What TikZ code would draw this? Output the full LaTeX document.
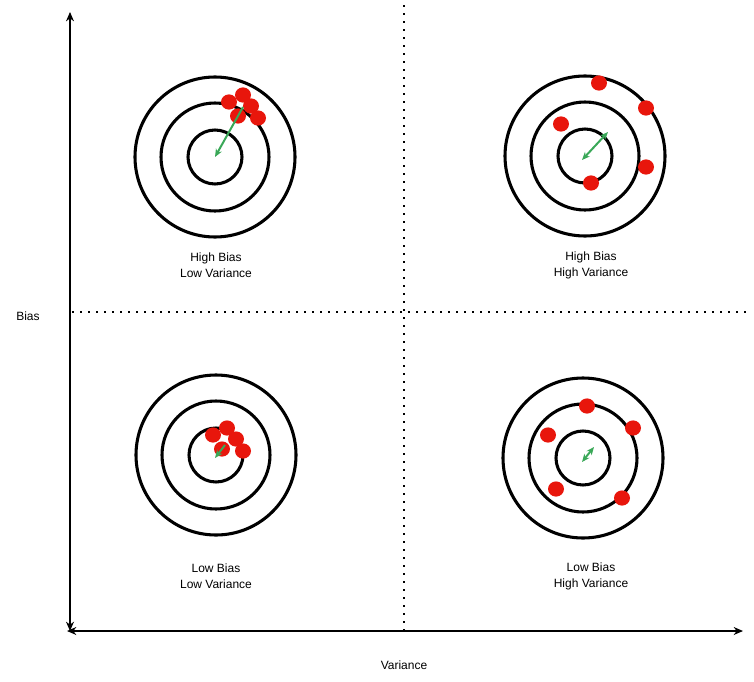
\documentclass[tikz,border=0pt]{standalone}
\usepackage{fontspec}
\setmainfont{Liberation Sans}
\usetikzlibrary{arrows.meta}
\definecolor{hitred}{RGB}{232,22,12}
\definecolor{aimgreen}{RGB}{58,168,88}

\begin{document}
\begin{tikzpicture}[x=0.75pt,y=-0.75pt,
	ring/.style={line width=2.3pt},
	hit/.style={fill=hitred},
	aim/.style={aimgreen,line width=1.5pt,-{Stealth[length=6pt,width=5pt]}},
	aimboth/.style={aim,{Stealth[length=6pt,width=5pt]}-{Stealth[length=6pt,width=5pt]}},
	axis/.style={line width=1pt,{Stealth[length=7pt,width=6pt]}-{Stealth[length=7pt,width=6pt]}},
	split/.style={line width=1.1pt,dash pattern=on 1.3pt off 4.7pt},
	caption/.style={align=center,font=\fontsize{9}{12}\selectfont}]
	\useasboundingbox (0,0) rectangle (754,682);
	% axes and quadrant lines
	\coordinate (ytop) at (70,12);
	\coordinate (ybot) at (70,631);
	\coordinate (xleft) at (67,631);
	\coordinate (xright) at (743,631);
	\coordinate (vtop) at (404,5);
	\coordinate (vbot) at (404,631);
	\coordinate (hleft) at (72,312);
	\coordinate (hright) at (746,312);
	\draw[axis] (ytop) -- (ybot);
	\draw[axis] (xleft) -- (xright);
	\draw[split] (vtop) -- (vbot);
	\draw[split] (hleft) -- (hright);
	\node[caption] (bias) at (28,316) {Bias};
	\node[caption] (variance) at (404,665) {Variance};
	% targets
	\foreach \name/\cx/\cy in {hblv/215/157, hbhv/585/156, lblv/216/455, lbhv/583/458}{
		\coordinate (\name) at (\cx,\cy);
		\foreach \r in {27,54,80}
			\draw[ring] (\name) circle[radius=\r];
	}
	% hits
	\foreach \x/\y in {229/102, 243/95, 251/106, 238/116, 258/118,
		599/83, 646/108, 561/124, 646/167, 591/183,
		213/435, 227/428, 236/439, 243/451, 222/449,
		587/406, 633/428, 548/435, 556/489, 622/498}
		\fill[hit] (\x,\y) ellipse[x radius=8, y radius=7.6];
	% mean offsets
	\coordinate (hblv-a) at (243,107);
	\coordinate (hbhv-a) at (582,160);
	\coordinate (hbhv-b) at (608,132);
	\coordinate (lblv-a) at (225,445);
	\coordinate (lblv-b) at (215,458);
	\coordinate (lbhv-a) at (582,462);
	\coordinate (lbhv-b) at (594,447);
	\draw[aim] (hblv-a) -- (hblv);
	\draw[aimboth] (hbhv-a) -- (hbhv-b);
	\draw[aim] (lblv-a) -- (lblv-b);
	\draw[aimboth] (lbhv-a) -- (lbhv-b);
	% labels
	\node[caption] (hblv-t) at (216,265) {High Bias\\Low Variance};
	\node[caption] (hbhv-t) at (591,265) {High Bias\\High Variance};
	\node[caption] (lblv-t) at (216,576) {Low Bias\\Low Variance};
	\node[caption] (lbhv-t) at (591,576) {Low Bias\\High Variance};
\end{tikzpicture}
\end{document}
